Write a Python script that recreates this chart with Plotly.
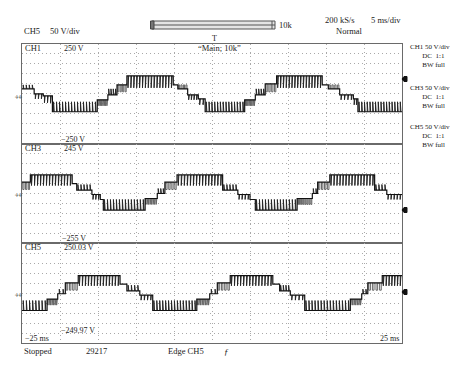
import plotly.graph_objects as go
from plotly.subplots import make_subplots

# ---------------- data ----------------
TIME_RANGE = [-25, 25]          # ms, 5 ms/div
CH1_RANGE = [-250, 250]         # V
CH3_RANGE = [-255, 245]
CH5_RANGE = [-249.97, 250.03]

# Each channel: segment edges (ms), level the trace sits at (V),
# level the switching pulses reach (V), number of pulses, fast switching flag
CH1_EDGES = [-25, -23.4, -22.2, -21.0, -15.1, -13.7, -12.5, -11.2, -5.1, -4.5, -3.2,
             -1.8, -0.9, 4.3, 5.7, 7.0, 8.5, 14.5, 15.3, 16.8, 18.6, 19.2, 25]
CH1_BASE = [25, 0, -10, -90, -30, -5, 45, 90, 45, 25, -5, -25, -90, -30, -5, 50, 90, 45, 25, -5, -25, -90]
CH1_PULSE = [45, -25, -45, -40, -60, 25, 10, 30, 45, 45, -30, -55, -40, -60, 25, 10, 30, 45, 45, -30, -55, -40]
CH1_COUNT = [4, 3, 3, 15, 8, 4, 4, 16, 0, 4, 4, 2, 14, 8, 4, 4, 16, 0, 4, 4, 2, 16]
CH1_FAST = [0, 0, 0, 0, 1, 0, 1, 0, 0, 1, 0, 0, 0, 1, 0, 1, 0, 0, 1, 0, 0, 0]

CH3_EDGES = [-25, -23.9, -18.4, -17.8, -15.8, -14.7, -14.3, -8.8, -7.2, -6.2, -4.6,
             1.4, 3.4, 5.0, 5.7, 11.2, 13.2, 13.9, 15.5, 21.4, 23.0, 25]
CH3_BASE = [52, 88, 45, 12, -10, -35, -88, -30, -5, 52, 88, 12, -10, -35, -88, -30, -5, 52, 88, 12, -10]
CH3_PULSE = [15, 35, 45, 40, -35, -35, -35, -60, 20, 15, 35, 40, -35, -35, -35, -60, 20, 15, 35, 40, -35]
CH3_COUNT = [3, 14, 0, 5, 3, 0, 14, 8, 3, 4, 15, 5, 4, 0, 14, 8, 2, 4, 15, 4, 5]
CH3_FAST = [1, 0, 0, 0, 0, 0, 0, 1, 0, 1, 0, 0, 0, 0, 0, 1, 0, 1, 0, 0, 0]

CH5_EDGES = [-25, -21.7, -20.3, -19.3, -17.6, -12.1, -11.2, -9.5, -7.8, -2.0, -0.3,
             0.7, 2.4, 8.0, 8.9, 10.3, 12.2, 18.2, 19.7, 20.5, 22.4, 25]
CH5_BASE = [-87, -30, -3, 52, 88, 45, 12, -10, -87, -30, -3, 52, 88, 45, 12, -10, -87, -30, -3, 52, 88]
CH5_PULSE = [-37, -60, 20, 15, 37, 45, 40, -35, -37, -60, 20, 15, 37, 45, 40, -35, -37, -60, 20, 15, 37]
CH5_COUNT = [8, 7, 2, 4, 14, 0, 4, 4, 15, 8, 2, 4, 14, 0, 4, 4, 15, 7, 2, 4, 7]
CH5_FAST = [0, 1, 0, 1, 0, 0, 0, 0, 0, 1, 0, 1, 0, 0, 0, 0, 0, 1, 0, 1, 0]

# ---------------- geometry helpers (pixel -> paper) ----------------
W, H = 474, 372
L, R, T, B = 22, 402, 44, 343


def px(x):
    return (x - L) / (R - L)


def py(y):
    return (B - y) / (B - T)


def build(edges, base, pulse, count, fast):
    bx, by = [], []   # trace body (levels)
    kx, ky = [], []   # ordinary switching spikes
    gx, gy = [], []   # fast switching (grey bands)
    for i in range(len(base)):
        t0, t1 = edges[i], edges[i + 1]
        b, p, n = base[i], pulse[i], count[i]
        bx += [t0, t1]
        by += [b, b]
        if n:
            step = (t1 - t0) / n
            w = step * 0.45 if fast[i] else 0.09
            for k in range(n):
                tc = t0 + (k + 0.5) * step
                xs = [tc - w / 2, tc - w / 2, tc + w / 2, tc + w / 2, None]
                ys = [b, p, p, b, None]
                if fast[i]:
                    gx += xs
                    gy += ys
                else:
                    kx += xs
                    ky += ys
    return bx, by, kx, ky, gx, gy


fig = make_subplots(rows=3, cols=1, shared_xaxes=True, vertical_spacing=0)

channels = [
    (CH1_EDGES, CH1_BASE, CH1_PULSE, CH1_COUNT, CH1_FAST, CH1_RANGE),
    (CH3_EDGES, CH3_BASE, CH3_PULSE, CH3_COUNT, CH3_FAST, CH3_RANGE),
    (CH5_EDGES, CH5_BASE, CH5_PULSE, CH5_COUNT, CH5_FAST, CH5_RANGE),
]

GRID = dict(showgrid=True, gridcolor="#a9a9a9", griddash="1px,3px", gridwidth=1,
            showticklabels=False, ticks="", zeroline=False,
            showline=True, linecolor="#6a6a6a", linewidth=1, mirror=True)

for row, (e, b, p, c, f, rng) in enumerate(channels, start=1):
    bx, by, kx, ky, gx, gy = build(e, b, p, c, f)
    fig.add_trace(go.Scatter(x=gx, y=gy, mode="lines", line=dict(color="#666666", width=1),
                             hoverinfo="skip", showlegend=False), row=row, col=1)
    fig.add_trace(go.Scatter(x=kx, y=ky, mode="lines", line=dict(color="#262626", width=1),
                             hoverinfo="skip", showlegend=False), row=row, col=1)
    fig.add_trace(go.Scatter(x=bx, y=by, mode="lines", line=dict(color="#111111", width=1.2),
                             hoverinfo="skip", showlegend=False), row=row, col=1)
    fig.update_yaxes(range=rng, tick0=rng[0], dtick=50, row=row, col=1, **GRID)

fig.update_xaxes(range=TIME_RANGE, tick0=-25, dtick=5, **GRID)

FONT = "Liberation Serif"
ann = []


def text(x, y, s, size=8.5, anchor="left", angle=0, yanchor="middle"):
    ann.append(dict(x=px(x), y=py(y), xref="paper", yref="paper", text=s, showarrow=False,
                    xanchor=anchor, yanchor=yanchor, textangle=angle, align="left",
                    font=dict(family=FONT, size=size, color="#222")))


# header
text(22, 31, "CH5")
text(48, 31, "50 V/div")
text(277, 25, "10k")
text(323, 20, "200 kS/s")
text(369, 20, "5 ms/div")
text(334, 31, "Normal")
text(210, 38, "T", size=8)
# panel labels
text(23, 48, "CH1")
text(62, 48, "250 V", size=8)
text(196, 48, "“Main; 10k”")
text(59, 139, "−250 V", size=8)
text(23, 148, "CH3")
text(62, 148, "245 V", size=8)
text(60, 238, "−255 V", size=8)
text(23, 247, "CH5")
text(62, 247, "250.03 V", size=8)
text(59, 330, "−249.97 V", size=8)
text(23, 338, "−25 ms", size=8)
text(401, 338, "25 ms", size=8, anchor="right")
# footer
text(22, 351, "Stopped")
text(84, 351, "29217")
text(166, 351, "Edge CH5")
text(222, 352, "<i>ƒ</i>", size=9)
# right channel info
for y0, ch in [(46, "CH1"), (86, "CH3"), (125, "CH5")]:
    text(408, y0 - 4.5, ch + " 50 V/div<br>&nbsp;&nbsp;&nbsp;&nbsp;&nbsp;&nbsp;&nbsp;DC  1:1"
         "<br>&nbsp;&nbsp;&nbsp;&nbsp;&nbsp;&nbsp;&nbsp;BW full", size=7, yanchor="top")
# left ground markers
for y0 in [97, 195, 295]:
    text(19, y0, "‡", size=8, anchor="center", angle=90)

shapes = []
# top bar (zoom indicator)
shapes.append(dict(type="rect", xref="paper", yref="paper", x0=px(152), x1=px(275), y0=py(29), y1=py(21),
                   line=dict(color="#555", width=1), fillcolor="#e4e4e4"))
shapes.append(dict(type="line", xref="paper", yref="paper", x0=px(152), x1=px(275), y0=py(25), y1=py(25),
                   line=dict(color="#555", width=1)))
shapes.append(dict(type="rect", xref="paper", yref="paper", x0=px(150.5), x1=px(154), y0=py(29), y1=py(21),
                   line=dict(color="#444", width=1), fillcolor="#777"))
shapes.append(dict(type="line", xref="paper", yref="paper", x0=px(272), x1=px(272), y0=py(29), y1=py(21),
                   line=dict(color="#555", width=1)))
# right trigger-level markers
for y0 in [79, 210, 292]:
    shapes.append(dict(type="path", xref="paper", yref="paper",
                       path=f"M {px(402)} {py(y0)} L {px(404)} {py(y0 - 2.5)} L {px(407)} {py(y0 - 2.5)} "
                            f"L {px(407)} {py(y0 + 2.5)} L {px(404)} {py(y0 + 2.5)} Z",
                       line=dict(color="#111", width=1), fillcolor="#111"))

fig.update_layout(width=W, height=H, margin=dict(l=L, r=W - R, t=T, b=H - B),
                  paper_bgcolor="white", plot_bgcolor="white", annotations=ann, shapes=shapes,
                  showlegend=False)

fig.write_html("out.html")
